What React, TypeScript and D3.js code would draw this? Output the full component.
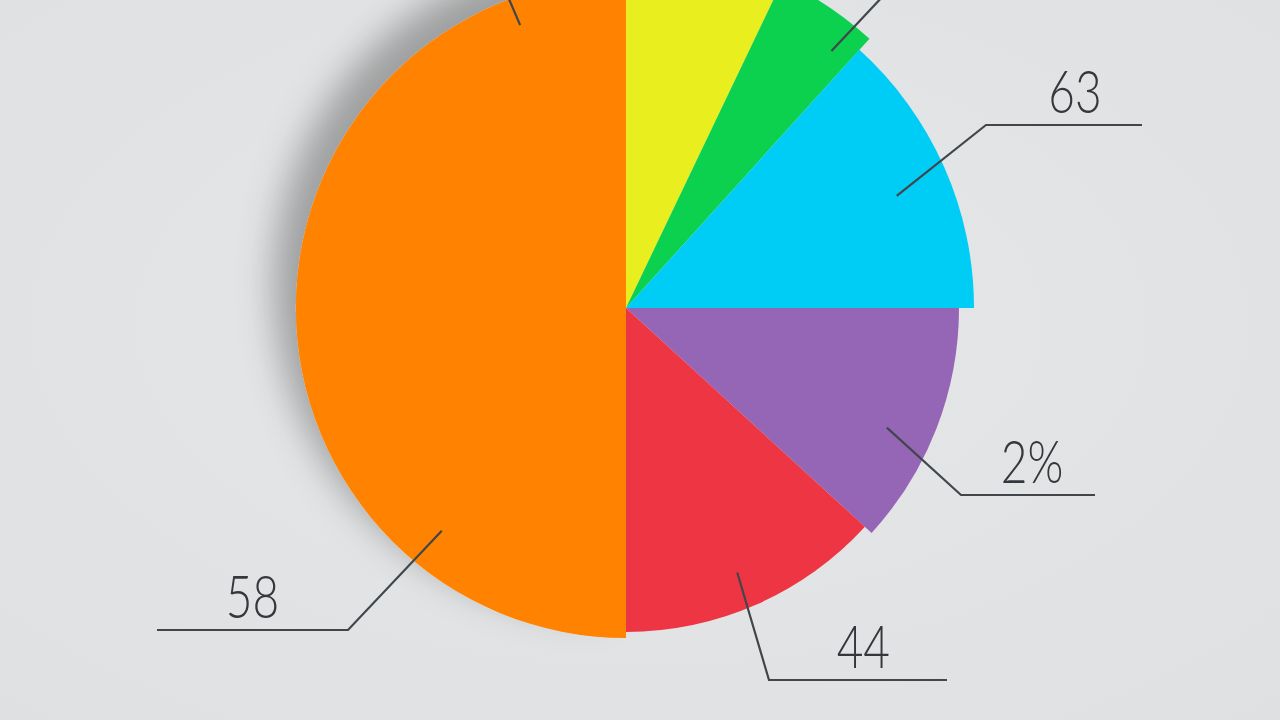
import { useEffect, useRef } from 'react';
import * as d3 from "d3";

// slices clockwise from 12 o'clock
const sliceKeys = ["yellow", "green", "cyan", "purple", "red", "orange"];
const sliceValues = [7.1, 4.6, 13.3, 11.8, 13.2, 50];
const sliceColors = ["#e9ee1e", "#0bd14f", "#00cdf6", "#9565b6", "#ee3543", "#ff8200"];

// label texts (top two are cut off by the frame)
const labelSlices = ["orange", "green", "cyan", "purple", "red", "orange"];
const labelTexts = ["", "", "63", "2%", "44", "58"];

const WIDTH = 1280;
const HEIGHT = 720;
const CX = 626;
const CY = 308;

// layout: outer radius per slice
const radii: Record<string, number> = {
  yellow: 345, green: 363, cyan: 348, purple: 333, red: 324, orange: 330,
};

// layout: leader anchor (fraction across slice, radius), elbow offset from centre, end x offset, text position
const leaders = [
  { t: 0.886, r: 302, elbow: [-126, -330], endX: -126, tx: 0.5 },
  { t: 0.79, r: 329, elbow: [274, -330], endX: 274, tx: 0.5 },
  { t: 0.53, r: 293, elbow: [360, -183], endX: 516, tx: 0.57 },
  { t: 0.58, r: 287, elbow: [335, 187], endX: 469, tx: 0.53 },
  { t: 0.52, r: 287, elbow: [143, 372], endX: 321, tx: 0.53 },
  { t: 0.22, r: 289, elbow: [-278, 322], endX: -469, tx: 0.5 },
];

export default function App() {
  const ref = useRef<SVGSVGElement>(null);

  useEffect(() => {
    document.body.style.margin = '0';
    const svg = d3.select(ref.current);
    svg.selectAll("*").remove();

    const defs = svg.append("defs");
    const bg = defs.append("radialGradient").attr("id", "bg")
      .attr("cx", "50%").attr("cy", "45%").attr("r", "75%");
    bg.append("stop").attr("offset", "0%").attr("stop-color", "#e6e7e8");
    bg.append("stop").attr("offset", "100%").attr("stop-color", "#dfe0e1");

    const sh = defs.append("filter").attr("id", "shadow")
      .attr("x", "-30%").attr("y", "-30%").attr("width", "160%").attr("height", "160%");
    sh.append("feDropShadow")
      .attr("dx", -22).attr("dy", -24).attr("stdDeviation", 18)
      .attr("flood-color", "#000").attr("flood-opacity", 0.3);

    svg.append("rect").attr("width", WIDTH).attr("height", HEIGHT).attr("fill", "url(#bg)");

    const pie = d3.pie<number>().sort(null).value(d => d)
      .startAngle(0).endAngle(2 * Math.PI);
    const arcs = pie(sliceValues);
    const color = d3.scaleOrdinal<string, string>().domain(sliceKeys).range(sliceColors);

    const g = svg.append("g").attr("transform", `translate(${CX}, ${CY})`);

    const arcFor = (i: number) => d3.arc<d3.PieArcDatum<number>>()
      .innerRadius(0)
      .outerRadius(radii[sliceKeys[i]]);

    // orange first with its shadow
    const order = [5, 0, 1, 2, 3, 4];
    order.forEach(i => {
      g.append("path")
        .attr("d", arcFor(i)(arcs[i]) as string)
        .attr("fill", color(sliceKeys[i]))
        .attr("filter", sliceKeys[i] === "orange" ? "url(#shadow)" : null);
    });

    // leaders and labels
    labelSlices.forEach((key, li) => {
      const a = arcs[sliceKeys.indexOf(key)];
      const L = leaders[li];
      const ang = a.startAngle + L.t * (a.endAngle - a.startAngle);
      const p0 = d3.pointRadial(ang, L.r);
      let pts: [number, number][];
      if (L.endX === L.elbow[0]) {
        // line running off the top edge
        const dx = L.elbow[0] - p0[0];
        const dy = L.elbow[1] - p0[1];
        const k = (-CY - 20 - p0[1]) / dy;
        pts = [p0, [p0[0] + dx * k, p0[1] + dy * k]];
      } else {
        pts = [p0, [L.elbow[0], L.elbow[1]], [L.endX, L.elbow[1]]];
      }
      g.append("path")
        .attr("d", d3.line()(pts) as string)
        .attr("fill", "none")
        .attr("stroke", "#41464b")
        .attr("stroke-width", 2.2)
        .attr("stroke-linejoin", "miter");

      if (labelTexts[li]) {
        const x1 = L.elbow[0];
        const x2 = L.endX;
        const mid = x1 + (x2 - x1) * L.tx;
        g.append("text")
          .attr("transform", `translate(${mid}, ${L.elbow[1] - 12}) scale(0.78, 1)`)
          .attr("text-anchor", "middle")
          .attr("font-family", "Lato, 'Open Sans', sans-serif")
          .attr("font-weight", 300)
          .attr("font-size", 59)
          .attr("fill", "#34383c")
          .text(labelTexts[li]);
      }
    });
  }, []);

  return (
    <svg ref={ref} width={WIDTH} height={HEIGHT}
      style={{ position: 'fixed', left: 0, top: 0, display: 'block' }} />
  );
}
